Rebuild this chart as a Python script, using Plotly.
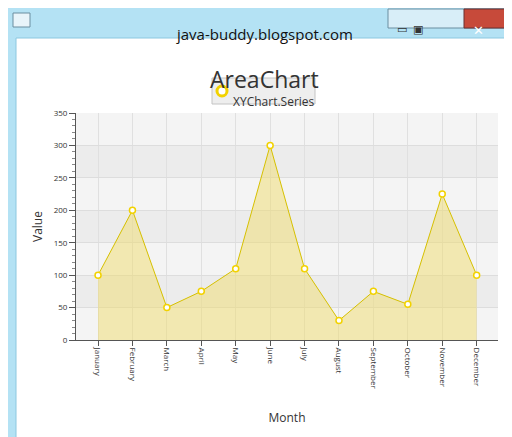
import plotly.graph_objects as go

months = ['January', 'February', 'March', 'April', 'May', 'June', 'July',
          'August', 'September', 'October', 'November', 'December']
values = [100, 200, 50, 75, 110, 300, 110, 30, 75, 55, 225, 100]
y_ticks = [0, 50, 100, 150, 200, 250, 300, 350]

W, H = 512, 437
L, R, T, B = 68, 22, 105, 105

# pixel -> paper coords (paper is the plot area in plotly)
def px_x(p):
    return (p - L) / (W - L - R)

def px_y(p):
    return (H - B - p) / (H - T - B)

def rect(x0, y0, x1, y1, **kw):
    return dict(type='rect', xref='paper', yref='paper',
                x0=px_x(x0), x1=px_x(x1), y0=px_y(y1), y1=px_y(y0), **kw)

fig = go.Figure()
fig.add_trace(go.Scatter(
    x=list(range(len(months))), y=values, mode='lines+markers',
    fill='tozeroy', fillcolor='rgba(240,220,110,0.5)',
    line=dict(color='#d6c000', width=1),
    marker=dict(symbol='circle', size=6, color='white',
                line=dict(color='#f2d200', width=1.5)),
    showlegend=False))

shapes = []
# alternating row bands
for i in range(len(y_ticks) - 1):
    shapes.append(dict(type='rect', xref='x domain', yref='y',
                       x0=0, x1=1, y0=y_ticks[i], y1=y_ticks[i + 1],
                       fillcolor='#f4f4f4' if i % 2 == 0 else '#ececec',
                       line_width=0, layer='below'))
# window frame
frame = '#b4e2f4'
shapes.append(rect(0, 0, 512, 30, fillcolor=frame, line_width=0))
shapes.append(rect(0, 0, 8, 437, fillcolor=frame, line_width=0))
shapes.append(rect(504, 0, 512, 437, fillcolor=frame, line_width=0))
shapes.append(rect(0, 430, 512, 437, fillcolor=frame, line_width=0))
shapes.append(rect(8, 30, 504, 430, line=dict(color='#8cc8e0', width=1)))
# window buttons
shapes.append(rect(380, 1, 500, 20, fillcolor='#d8eef8',
                   line=dict(color='#6a8ea0', width=1)))
shapes.append(rect(456, 1, 500, 20, fillcolor='#c74a3a',
                   line=dict(color='#6a3030', width=1)))
shapes.append(rect(5, 5, 22, 19, fillcolor='#e8f4fa',
                   line=dict(color='#6a8ea0', width=1)))
# legend box
shapes.append(rect(204, 70, 307, 96, fillcolor='#eeeeee',
                   line=dict(color='#c4c4c4', width=1)))
shapes.append(dict(type='circle', xref='paper', yref='paper',
                   x0=px_x(209), x1=px_x(219), y0=px_y(88), y1=px_y(78),
                   fillcolor='white', line=dict(color='#f2d200', width=3)))

annotations = [
    dict(text='java-buddy.blogspot.com', x=px_x(256), y=px_y(14),
         xref='paper', yref='paper', showarrow=False,
         font=dict(size=15, color='#111')),
    dict(text='AreaChart', x=px_x(256), y=px_y(53), xref='paper',
         yref='paper', showarrow=False, font=dict(size=23, color='#333')),
    dict(text='XYChart.Series', x=px_x(223), y=px_y(83), xref='paper',
         yref='paper', xanchor='left', showarrow=False,
         font=dict(size=12, color='#333')),
    dict(text='✕', x=px_x(478), y=px_y(11), xref='paper', yref='paper',
         showarrow=False, font=dict(size=13, color='white')),
    dict(text='▭  ▣', x=px_x(418), y=px_y(11), xref='paper', yref='paper',
         showarrow=False, font=dict(size=11, color='#333')),
]

fig.update_layout(
    width=W, height=H,
    margin=dict(l=L, r=R, t=T, b=B),
    paper_bgcolor='white', plot_bgcolor='#f4f4f4',
    font=dict(family='Open Sans, DejaVu Sans', color='#333'),
    shapes=shapes, annotations=annotations,
    xaxis=dict(range=[-0.64, 11.62], tickvals=list(range(len(months))),
               ticktext=months, tickangle=90, tickfont=dict(size=8),
               showgrid=True, gridcolor='#e0e0e0', zeroline=False,
               showline=True, linecolor='#555', ticks='outside',
               ticklen=5, tickcolor='#555',
               title=dict(text='Month', font=dict(size=12), standoff=25)),
    yaxis=dict(range=[0, 350], tickvals=y_ticks, tickfont=dict(size=8),
               showgrid=True, gridcolor='#dddddd', zeroline=False,
               showline=True, linecolor='#555', ticks='outside',
               ticklen=6, tickcolor='#555',
               minor=dict(dtick=10, ticks='outside', ticklen=3,
                          tickcolor='#888', showgrid=False),
               title=dict(text='Value', font=dict(size=12), standoff=8)),
)

fig.write_html('out.html')
